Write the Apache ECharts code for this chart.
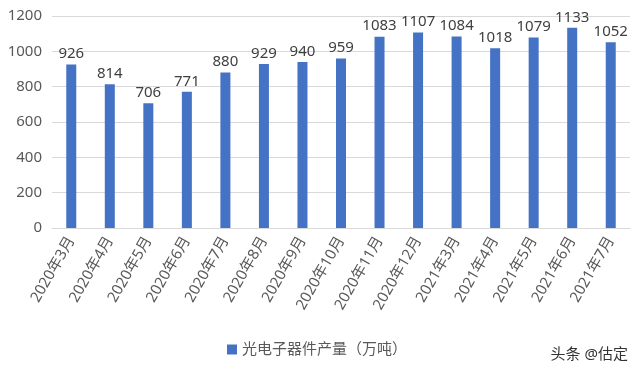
<!DOCTYPE html>
<html><head><meta charset="utf-8">
<script src="https://cdn.jsdelivr.net/npm/echarts@6/dist/echarts.min.js"></script>
<style>html,body{margin:0;padding:0;background:#fff}#c{width:640px;height:374px}</style>
</head><body><div id="c"></div>
<script>
const categories = ['2020年3月','2020年4月','2020年5月','2020年6月','2020年7月','2020年8月','2020年9月','2020年10月','2020年11月','2020年12月','2021年3月','2021年4月','2021年5月','2021年6月','2021年7月'];
const values = [926,814,706,771,880,929,940,959,1083,1107,1084,1018,1079,1133,1052];
const seriesName = '光电子器件产量（万吨）';
const font = '"Noto Sans", "Noto Sans CJK SC", sans-serif';
const chart = echarts.init(document.getElementById('c'));
chart.setOption({
  animation: false,
  backgroundColor: '#fff',
  grid: {left: 52, right: 10, top: 16, bottom: 146},
  legend: {
    data: [seriesName], bottom: 12, left: 222,
    icon: 'rect', itemWidth: 10, itemHeight: 10, itemGap: 6,
    textStyle: {fontFamily: font, fontSize: 15, color: '#595959'}
  },
  graphic: [{type: 'text', right: 12, bottom: 12, style: {text: '头条 @估定', fontFamily: font, fontSize: 15, fill: '#333'}}],
  xAxis: {
    type: 'category', data: categories,
    axisLine: {lineStyle: {color: '#d9d9d9'}}, axisTick: {show: false},
    axisLabel: {rotate: 60, interval: 0, fontFamily: font, fontSize: 15, color: '#595959', margin: 10}
  },
  yAxis: {
    type: 'value', min: 0, max: 1200, interval: 200,
    axisLine: {show: false}, axisTick: {show: false},
    splitLine: {lineStyle: {color: '#d9d9d9'}},
    axisLabel: {fontFamily: font, fontSize: 15, color: '#595959', margin: 10, formatter: v => String(v)}
  },
  series: [{
    name: seriesName, type: 'bar', data: values, barWidth: 10,
    itemStyle: {color: '#4472C4'},
    label: {show: true, position: 'top', fontFamily: font, fontSize: 15, color: '#404040', distance: 3}
  }]
});
</script></body></html>
